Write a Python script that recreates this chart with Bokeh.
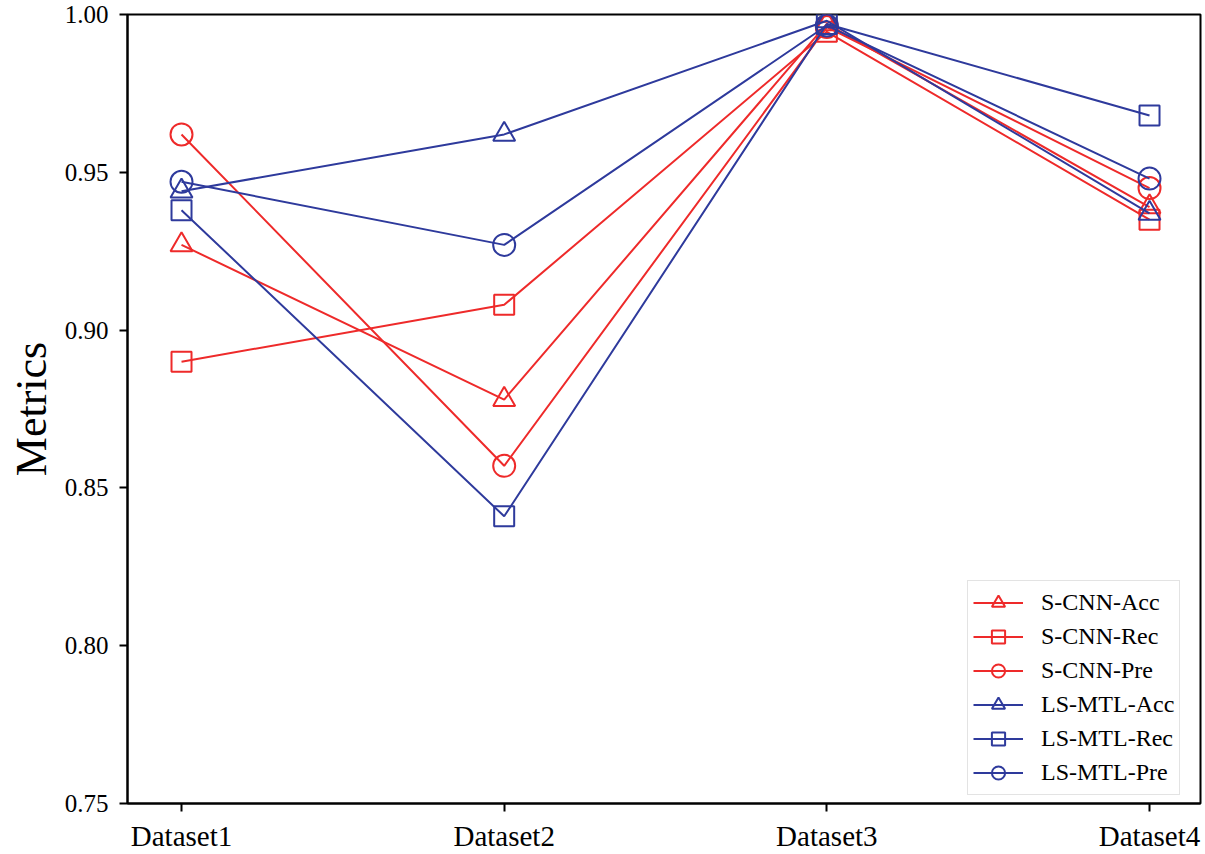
from bokeh.plotting import figure
from bokeh.models import Range1d, FixedTicker, Legend, LegendItem
from bokeh.embed import file_html
from bokeh.resources import INLINE

datasets = ["Dataset1", "Dataset2", "Dataset3", "Dataset4"]
s_cnn_acc = [0.927, 0.878, 0.997, 0.939]
s_cnn_rec = [0.890, 0.908, 0.9945, 0.935]
s_cnn_pre = [0.962, 0.857, 0.996, 0.945]
ls_mtl_acc = [0.944, 0.962, 0.998, 0.937]
ls_mtl_rec = [0.938, 0.841, 0.997, 0.968]
ls_mtl_pre = [0.947, 0.927, 0.9965, 0.948]
y_ticks = [0.75, 0.80, 0.85, 0.90, 0.95, 1.00]

RED = "#EE2A2A"
BLUE = "#2E3A9C"
FONT = "Liberation Serif"

xs = list(range(len(datasets)))

p = figure(width=1205, height=854, output_backend="svg", toolbar_location=None,
           x_range=Range1d(-0.1674, 3.158), y_range=Range1d(0.75, 1.00),
           min_border_left=127, min_border_right=5, min_border_top=14, min_border_bottom=51)

p.xgrid.visible = False
p.ygrid.visible = False
p.outline_line_color = "black"
p.outline_line_width = 2
p.background_fill_color = "white"
p.border_fill_color = "white"

p.xaxis.ticker = FixedTicker(ticks=xs)
p.xaxis.major_label_overrides = {i: d for i, d in enumerate(datasets)}
p.yaxis.ticker = FixedTicker(ticks=y_ticks)
p.yaxis.major_label_overrides = {t: f"{t:.2f}" for t in y_ticks}

for ax in (p.xaxis[0], p.yaxis[0]):
    ax.axis_line_width = 2
    ax.axis_line_color = "black"
    ax.major_tick_line_width = 2
    ax.major_tick_line_color = "black"
    ax.major_tick_out = 8
    ax.major_tick_in = 0
    ax.minor_tick_line_color = None
    ax.major_label_text_font = FONT
    ax.major_label_text_color = "black"

p.yaxis.major_label_text_font_size = "25px"
p.xaxis.major_label_text_font_size = "29px"
p.xaxis.major_label_standoff = 8
p.yaxis.major_label_standoff = 11
p.yaxis.axis_label = "Metrics"
p.yaxis.axis_label_text_font = FONT
p.yaxis.axis_label_text_font_size = "44px"
p.yaxis.axis_label_text_font_style = "normal"
p.yaxis.axis_label_text_color = "black"
p.yaxis.axis_label_standoff = 6

series = [
    ("S-CNN-Acc", s_cnn_acc, RED, "triangle", 22),
    ("S-CNN-Rec", s_cnn_rec, RED, "square", 20),
    ("S-CNN-Pre", s_cnn_pre, RED, "circle", 22),
    ("LS-MTL-Acc", ls_mtl_acc, BLUE, "triangle", 22),
    ("LS-MTL-Rec", ls_mtl_rec, BLUE, "square", 20),
    ("LS-MTL-Pre", ls_mtl_pre, BLUE, "circle", 22),
]

items = []
for name, vals, col, mk, sz in series:
    l = p.line(xs, vals, line_color=col, line_width=2)
    s = p.scatter(xs, vals, marker=mk, size=sz, line_color=col, line_width=2, fill_color=None)
    items.append(LegendItem(label=name, renderers=[l, s]))

legend = Legend(items=items, location=(840, 8))
legend.label_text_font = FONT
legend.label_text_font_size = "24px"
legend.label_text_color = "black"
legend.glyph_width = 50
legend.glyph_height = 33
legend.label_height = 33
legend.spacing = 1
legend.padding = 5
legend.label_standoff = 18
legend.margin = 0
legend.border_line_color = "#c8c8c8"
legend.border_line_width = 1.5
legend.background_fill_color = "white"
legend.background_fill_alpha = 1.0
p.add_layout(legend)

open("out.html", "w").write(file_html(p, INLINE))
